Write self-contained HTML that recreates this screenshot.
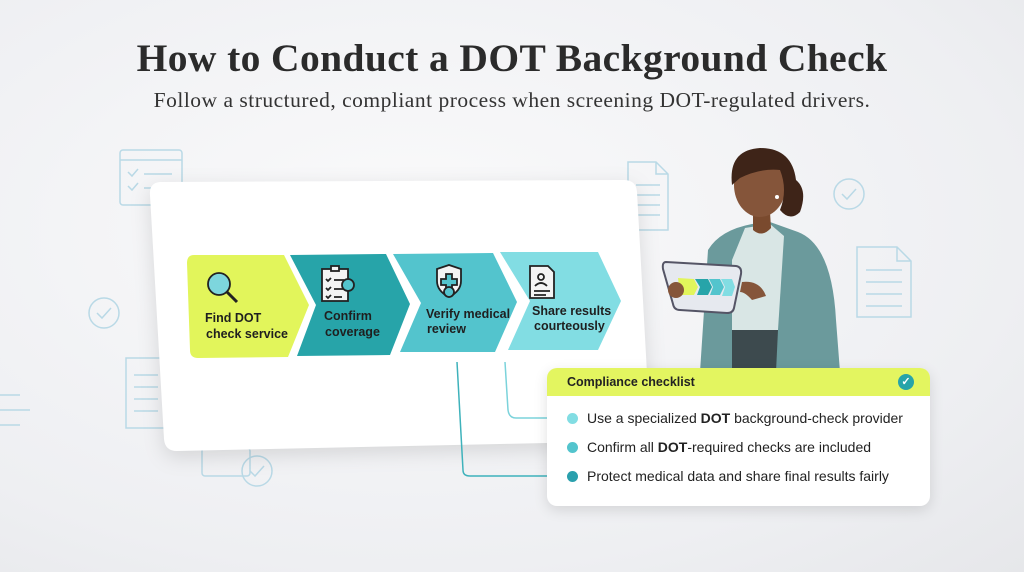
<!DOCTYPE html>
<html><head><meta charset="utf-8"><style>
html,body{margin:0;padding:0}
body{width:1024px;height:572px;overflow:hidden;background:radial-gradient(ellipse at 40% 40%,#fafafb 0%,#eeeff2 70%,#e6e7ea 100%);font-family:"Liberation Sans",sans-serif;position:relative}
.t{position:absolute;left:0;width:1024px;text-align:center;font-family:"Liberation Serif",serif;color:#2b2b2b;white-space:nowrap}
.cl{position:absolute;left:547px;top:368px;width:383px;height:138px;background:#fff;border-radius:10px;box-shadow:0 4px 14px rgba(0,0,0,.12);overflow:hidden}
.cl .h{height:28px;background:#e3f560;font-size:12.5px;font-weight:bold;color:#222;padding-left:20px;line-height:28px;position:relative}
.cl .row{position:absolute;left:20px;font-size:14px;color:#222;white-space:nowrap}
.dot{display:inline-block;width:11px;height:11px;border-radius:50%;margin-right:9px;vertical-align:-1px}
</style></head><body>
<div class="t" style="top:35px;font-size:39.5px;font-weight:bold;letter-spacing:0.4px">How to Conduct a DOT Background Check</div>
<div class="t" style="top:88px;font-size:21.5px;color:#333;letter-spacing:0.5px">Follow a structured, compliant process when screening DOT-regulated drivers.</div>

<svg width="1024" height="572" style="position:absolute;left:0;top:0" xmlns="http://www.w3.org/2000/svg">
<g fill="none" stroke="#b9d9e6" stroke-width="1.5">
 <rect x="120" y="150" width="62" height="55" rx="3"/><line x1="120" y1="160" x2="182" y2="160"/>
 <path d="M128 172l4 4 6-7M128 186l4 4 6-7M144 174h28M144 188h28"/>
 <path d="M628 162h28l12 12v56h-40z M656 162v12h12 M636 185h24M636 195h24M636 205h24M636 215h24"/>
 <circle cx="849" cy="194" r="15"/><path d="M842 194l5 5 9-10"/>
 <path d="M857 247h40l14 14v56h-54z M897 247v14h14 M866 270h36M866 282h36M866 294h36M866 306h36"/>
 <circle cx="104" cy="313" r="15"/><path d="M97 313l5 5 9-10"/>
 <path d="M126 358h40v70h-40z M134 375h24M134 387h24M134 399h24M134 411h24"/>
 <path d="M0 395h20M0 410h30M0 425h20"/>
 <circle cx="257" cy="471" r="15"/><path d="M250 471l5 5 9-10"/>
 <rect x="202" y="448" width="48" height="28" rx="3"/>
</g>
<path d="M160 182 L624 180 Q636 180 637 192 L650 428 Q651 440 639 441 L177 451 Q165 451 164 439 L150 195 Q149 183 160 182Z" fill="#fff" style="filter:drop-shadow(0 6px 10px rgba(0,0,0,.12))"/>
<path d="M500 252 L598 252 L621 301 L598 350 L508 350 L530 301 Z" fill="#82dde3"/>
<path d="M393 254 L493 253 L517 302 L495 352 L400 352 L421 303 Z" fill="#53c4cd"/>
<path d="M290 255 L386 254 L410 304 L390 355 L297 356 L316 305 Z" fill="#27a4a9"/>
<path d="M194 255 L284 255 L309 305 L288 357 L198 358 Q190 358 190 350 L187 263 Q187 255 194 255Z" fill="#e2f55b"/>
<g stroke="#222" stroke-width="1.8" fill="none">
 <circle cx="219" cy="284" r="11" fill="#7dd6dd"/><path d="M227 292l10 10" stroke-width="3"/>
 <rect x="322" y="269" width="26" height="32" fill="#f4f4f4"/><rect x="331" y="266" width="8" height="5" fill="#f4f4f4"/>
 <path d="M326 279l2 2 3-3M334 280h10M326 288l2 2 3-3M334 289h10M326 296l2 2 3-3M334 297h8"/>
 <circle cx="348" cy="285" r="6" fill="#53c4cd"/>
 <path d="M437 269 l12 -4 12 4 v12 q0 10 -12 16 q-12 -6 -12 -16z" fill="#f4f4f4"/>
 <path d="M446 274h6v5h5v6h-5v5h-6v-5h-5v-6h5z" fill="#53c4cd"/>
 <circle cx="449" cy="292" r="5" fill="#53c4cd"/>
 <path d="M530 266h18l6 6v26h-24z" fill="#f4f4f4"/><circle cx="541" cy="277" r="3"/><path d="M535 286q6-6 12 0M534 291h16M534 295h12"/>
</g>
<g font-family="Liberation Sans,sans-serif" font-weight="bold" font-size="12.5" fill="#1f1f1f">
 <text x="205" y="322">Find DOT</text><text x="206" y="338">check service</text>
 <text x="324" y="320">Confirm</text><text x="325" y="336">coverage</text>
 <text x="426" y="318">Verify medical</text><text x="427" y="333">review</text>
 <text x="532" y="315">Share results</text><text x="534" y="330">courteously</text>
</g>
<path d="M457 362 L463 470 Q463 476 470 476 L560 476" stroke="#3eb2bb" stroke-width="1.5" fill="none"/>
<path d="M505 362 L508 410 Q509 418 516 418 L560 418" stroke="#7bd3db" stroke-width="1.5" fill="none"/>
<path d="M700 372 L708 250 Q720 230 752 224 L770 222 L798 232 Q832 245 836 320 L840 372 Z" fill="#6b9a9c"/>
<path d="M745 228 L770 224 L784 236 L778 330 L732 330 L732 260 Z" fill="#d9e6e5"/>
<path d="M732 330 L778 330 L776 372 L732 372 Z" fill="#3d4a4e"/>
<path d="M753 212 L753 230 Q762 238 771 228 L770 212Z" fill="#7a4a2e"/>
<ellipse cx="760" cy="185" rx="26" ry="32" fill="#85553a"/>
<path d="M732 185 Q728 150 760 148 Q792 148 796 180 Q808 190 800 212 Q790 222 780 210 Q788 190 780 170 Q760 168 740 178 Z" fill="#3e2418"/>
<circle cx="777" cy="197" r="2" fill="#fff"/>
<path d="M666 262 L736 266 Q742 267 741 274 L734 308 Q733 313 727 313 L680 310 Q674 310 673 304 L663 269 Q662 262 666 262Z" fill="#e6e9ef" stroke="#556" stroke-width="2"/>
<path d="M678 278 L694 279 L698 287 L694 295 L680 295Z" fill="#e2f55b"/>
<path d="M695 279 L708 279 L712 287 L708 295 L697 295 L700 287Z" fill="#27a4a9"/>
<path d="M709 279 L720 279 L724 287 L720 295 L710 295 L713 287Z" fill="#53c4cd"/>
<path d="M721 279 L732 279 L735 287 L732 296 L722 296 L725 287Z" fill="#82dde3"/>
<ellipse cx="676" cy="290" rx="8" ry="8" fill="#85553a"/>
<path d="M742 282 Q760 280 766 296 L752 300 Q745 292 740 292Z" fill="#85553a"/>
</svg>

<div class="cl">
 <div class="h">Compliance checklist<span style="position:absolute;right:16px;top:6px;width:16px;height:16px;border-radius:50%;background:#27a4a9;color:#fff;font-size:11px;line-height:16px;text-align:center">✓</span></div>
 <div class="row" style="top:42px"><span class="dot" style="background:#82dde3"></span>Use a specialized <b>DOT</b> background-check provider</div>
 <div class="row" style="top:71px"><span class="dot" style="background:#53c4cd"></span>Confirm all <b>DOT</b>-required checks are included</div>
 <div class="row" style="top:100px"><span class="dot" style="background:#2aa0ad"></span>Protect medical data and share final results fairly</div>
</div>
</body></html>
